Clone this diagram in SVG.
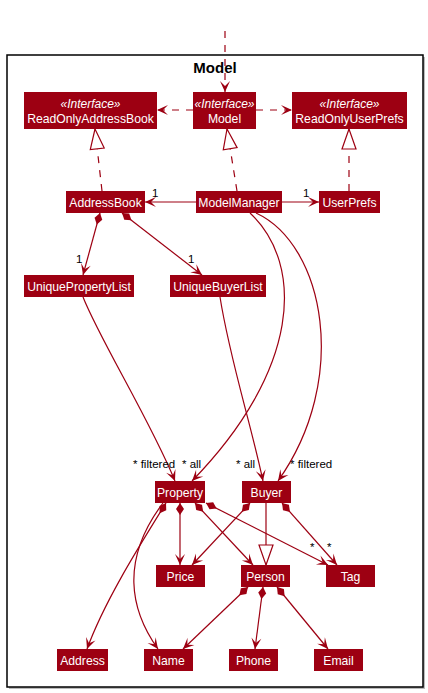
<svg xmlns="http://www.w3.org/2000/svg" width="428" height="693" viewBox="0 0 428 693">
<style>
.n{fill:#9D0012}
.t{fill:#fff;font-family:"Liberation Sans",Arial,sans-serif;font-size:12.2px;text-anchor:middle}
.s{fill:#fff;font-family:"Liberation Sans",Arial,sans-serif;font-size:12px;font-style:italic;text-anchor:middle}
.e{fill:none;stroke:#9D0012;stroke-width:1.2}
.d{stroke-dasharray:7,7}
.l{fill:#000;font-family:"Liberation Sans",Arial,sans-serif;font-size:11.5px}
</style>
<defs>
<marker id="a" markerUnits="userSpaceOnUse" markerWidth="14" markerHeight="12" viewBox="-12 -6 14 12" refX="0" refY="0" orient="auto"><path d="M0,0 L-11,-5 L-6,0 L-11,5 Z" fill="#9D0012"/></marker>
<marker id="dm" markerUnits="userSpaceOnUse" markerWidth="16" markerHeight="10" viewBox="-14 -5 16 10" refX="0" refY="0" orient="auto-start-reverse"><path d="M0,0 L-6,-4 L-12,0 L-6,4 Z" fill="#9D0012"/></marker>
<marker id="tr" markerUnits="userSpaceOnUse" markerWidth="24" markerHeight="18" viewBox="-22 -9 24 18" refX="0" refY="0" orient="auto"><path d="M0,0 L-20,-7 L-20,7 Z" fill="#fff" stroke="#9D0012" stroke-width="1.2"/></marker>
</defs>
<rect x="9" y="57" width="416" height="632" fill="#bbb"/>
<rect x="7" y="55" width="416" height="632" fill="#fff" stroke="#000" stroke-width="1.5"/>
<text x="215" y="73" text-anchor="middle" font-family="'Liberation Sans',Arial,sans-serif" font-size="15" font-weight="bold">Model</text>
<g id="connectors">
<path class="e d" d="M225,31 L225,92" marker-end="url(#a)"/>
<path class="e d" d="M193,110 L157,110" marker-end="url(#a)"/>
<path class="e d" d="M256,110 L292,110" marker-end="url(#a)"/>
<path class="e d" d="M102,191 L95,129" marker-end="url(#tr)"/>
<path class="e d" d="M237,191 L227,129" marker-end="url(#tr)"/>
<path class="e d" d="M349,191 L349,129" marker-end="url(#tr)"/>
<path class="e" d="M196,202 L145,202" marker-end="url(#a)"/>
<path class="e" d="M282,202 L319,202" marker-end="url(#a)"/>
<path class="e" d="M100,213 L83,275" marker-start="url(#dm)" marker-end="url(#a)"/>
<path class="e" d="M122,213 L202,275" marker-start="url(#dm)" marker-end="url(#a)"/>
<path class="e" d="M250,213 C305,265 300,370 192,481" marker-end="url(#a)"/>
<path class="e" d="M256,213 C325,245 350,380 278,481" marker-end="url(#a)"/>
<path class="e" d="M83,297 C100,340 150,420 175,481" marker-end="url(#a)"/>
<path class="e" d="M220,297 C230,360 250,420 263,481" marker-end="url(#a)"/>
<path class="e" d="M166,503 C140,545 105,600 87,649" marker-start="url(#dm)" marker-end="url(#a)"/>
<path class="e" d="M163,503 C120,560 130,610 158,649" marker-end="url(#a)"/>
<path class="e" d="M180,503 L180,565" marker-start="url(#dm)" marker-end="url(#a)"/>
<path class="e" d="M195,503 L253,565" marker-start="url(#dm)" marker-end="url(#a)"/>
<path class="e" d="M206,503 L328,565" marker-start="url(#dm)" marker-end="url(#a)"/>
<path class="e" d="M250,503 L192,565" marker-start="url(#dm)" marker-end="url(#a)"/>
<path class="e" d="M266,503 L266,565" marker-end="url(#tr)"/>
<path class="e" d="M282,503 L337,565" marker-start="url(#dm)" marker-end="url(#a)"/>
<path class="e" d="M248,587 L183,649" marker-start="url(#dm)" marker-end="url(#a)"/>
<path class="e" d="M263,587 L255,649" marker-start="url(#dm)" marker-end="url(#a)"/>
<path class="e" d="M277,587 L328,649" marker-start="url(#dm)" marker-end="url(#a)"/>
<text class="l" x="152" y="197">1</text>
<text class="l" x="303" y="197">1</text>
<text class="l" x="76" y="263">1</text>
<text class="l" x="188" y="263">1</text>
<text class="l" x="133" y="468">* filtered</text>
<text class="l" x="182" y="468">* all</text>
<text class="l" x="236" y="468">* all</text>
<text class="l" x="290" y="468">* filtered</text>
<text class="l" x="310" y="551">*</text>
<text class="l" x="327" y="551">*</text>
</g>
<g id="ReadOnlyAddressBook"><rect class="n" x="24" y="92" width="133" height="37"/><text class="s" x="90.5" y="108">«Interface»</text><text class="t" x="90.5" y="123">ReadOnlyAddressBook</text></g>
<g id="ModelI"><rect class="n" x="193" y="92" width="63" height="37"/><text class="s" x="224.5" y="108">«Interface»</text><text class="t" x="224.5" y="123">Model</text></g>
<g id="ReadOnlyUserPrefs"><rect class="n" x="292" y="92" width="115" height="37"/><text class="s" x="349.5" y="108">«Interface»</text><text class="t" x="349.5" y="123">ReadOnlyUserPrefs</text></g>
<g id="AddressBook"><rect class="n" x="66" y="191" width="79" height="22"/><text class="t" x="105.5" y="207">AddressBook</text></g>
<g id="ModelManager"><rect class="n" x="196" y="191" width="86" height="22"/><text class="t" x="239" y="207">ModelManager</text></g>
<g id="UserPrefs"><rect class="n" x="319" y="191" width="61" height="22"/><text class="t" x="349.5" y="207">UserPrefs</text></g>
<g id="UniquePropertyList"><rect class="n" x="24" y="275" width="110" height="22"/><text class="t" x="79" y="291">UniquePropertyList</text></g>
<g id="UniqueBuyerList"><rect class="n" x="170" y="275" width="96" height="22"/><text class="t" x="218" y="291">UniqueBuyerList</text></g>
<g id="Property"><rect class="n" x="155" y="481" width="50" height="22"/><text class="t" x="180" y="497">Property</text></g>
<g id="Buyer"><rect class="n" x="242" y="481" width="49" height="22"/><text class="t" x="266.5" y="497">Buyer</text></g>
<g id="Price"><rect class="n" x="156" y="565" width="49" height="22"/><text class="t" x="180.5" y="581">Price</text></g>
<g id="Person"><rect class="n" x="241" y="565" width="49" height="22"/><text class="t" x="265.5" y="581">Person</text></g>
<g id="Tag"><rect class="n" x="326" y="565" width="49" height="22"/><text class="t" x="350.5" y="581">Tag</text></g>
<g id="Address"><rect class="n" x="57" y="649" width="51" height="22"/><text class="t" x="82.5" y="665">Address</text></g>
<g id="Name"><rect class="n" x="144" y="649" width="49" height="22"/><text class="t" x="168.5" y="665">Name</text></g>
<g id="Phone"><rect class="n" x="229" y="649" width="49" height="22"/><text class="t" x="253.5" y="665">Phone</text></g>
<g id="Email"><rect class="n" x="314" y="649" width="49" height="22"/><text class="t" x="338.5" y="665">Email</text></g>
</svg>
